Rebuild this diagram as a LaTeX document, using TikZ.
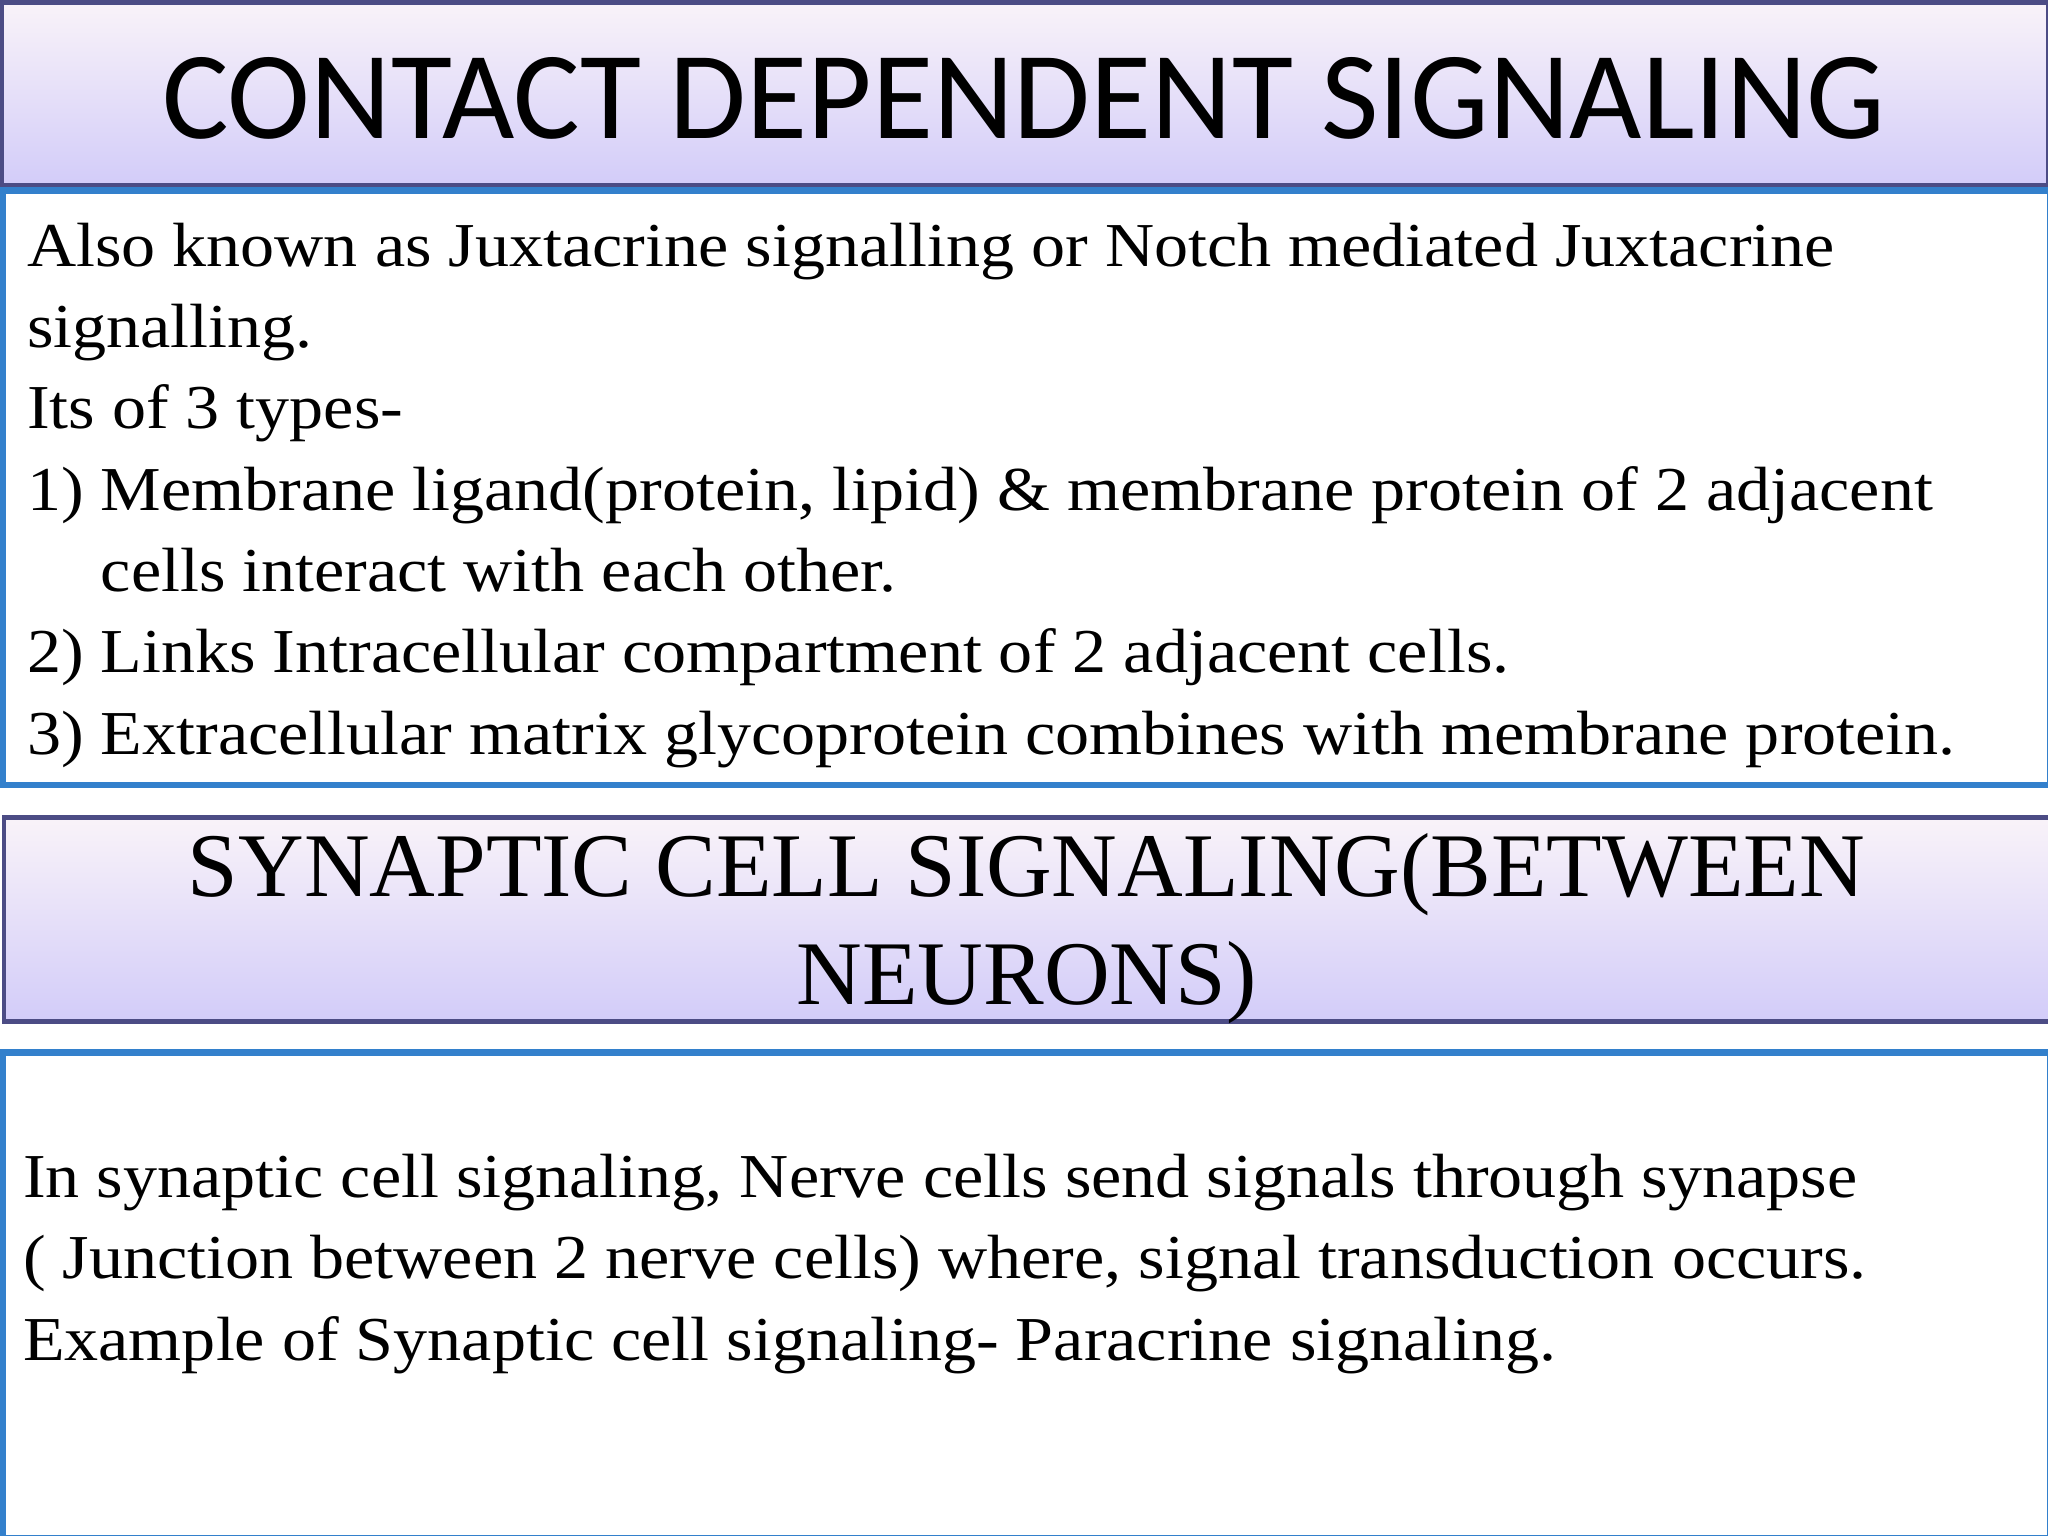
\documentclass[tikz,border=0pt]{standalone}
\usepackage{fontspec}
\setmainfont{Liberation Serif}
\newfontfamily\bodyfont[FakeStretch=1.09]{Liberation Serif}
\newfontfamily\titlefont{Carlito}
\begin{document}
\begin{tikzpicture}[x=0.01cm,y=-0.01cm,
  hdr/.style={draw=black!45!blue!40!gray, line width=1pt, top color=white!60!violet!12, bottom color=violet!25!blue!20!white},
  body/.style={draw=blue!50!cyan!60!gray, line width=1.5pt, fill=white},
  txt/.style={anchor=north west, align=left, inner sep=0pt, font=\bodyfont\fontsize{13.6pt}{17.7pt}\selectfont}]
\useasboundingbox (0,0) rectangle (1568,1176);
\fill[white] (0,0) rectangle (1568,1176);
\draw[hdr] (1,2) rectangle (1568,142);
\node (t1) at (784,75) {\titlefont\fontsize{27.2pt}{30pt}\selectfont CONTACT DEPENDENT SIGNALING};
\draw[body] (2,146) rectangle (1570,601);
\node[txt] (b1) at (20,170) {Also known as Juxtacrine signalling or Notch mediated Juxtacrine\\
signalling.\\
Its of 3 types-\\
1)\ Membrane ligand(protein, lipid) \& membrane protein of 2 adjacent\\
\hphantom{1)\ }cells interact with each other.\\
2)\ Links Intracellular compartment of 2 adjacent cells.\\
3)\ Extracellular matrix glycoprotein combines with membrane protein.};
\draw[hdr] (3,626) rectangle (1570,782);
\node[align=center, font=\fontsize{19.8pt}{23.6pt}\selectfont] (t2) at (786,711) {SYNAPTIC CELL SIGNALING(BETWEEN\\NEURONS)};
\draw[body] (2,806) rectangle (1570,1178);
\node[txt] (b2) at (17,883) {In synaptic cell signaling, Nerve cells send signals through synapse\\
( Junction between 2 nerve cells) where, signal transduction occurs.\\
Example of Synaptic cell signaling- Paracrine signaling.};
\end{tikzpicture}
\end{document}
